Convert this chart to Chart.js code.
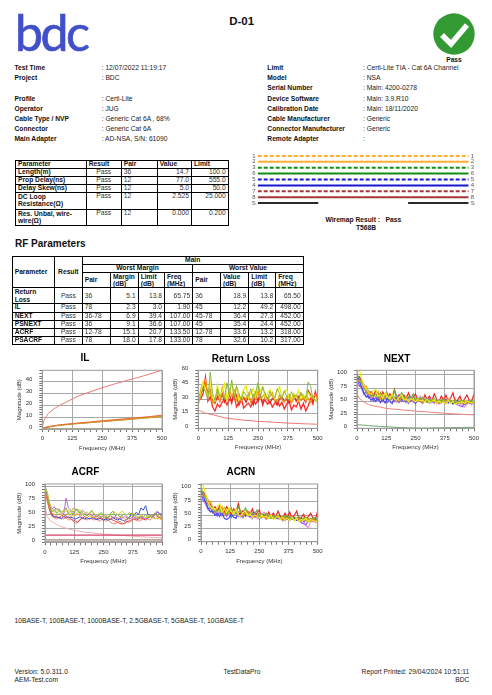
<!DOCTYPE html>
<html>
<head>
<meta charset="utf-8">
<title>D-01</title>
<script src="https://cdn.jsdelivr.net/npm/chart.js@4"></script>
<style>
    html, body { margin: 0; padding: 0; background: #fff; }
    body { position: relative; width: 492px; height: 695px; overflow: hidden; font-family: "Liberation Sans", Arial, sans-serif; font-size: 6.7px; color: #222; }
    .t { position: absolute; line-height: 8px; white-space: pre; }
    .b { font-weight: bold; color: #111; }
    canvas { position: absolute; }
    table { position: absolute; border-collapse: collapse; table-layout: fixed; font-size: 6.7px; }
    td { border: 1px solid #000; padding: 0 2px; line-height: 6.5px; overflow: hidden; vertical-align: top; color: #333; }
    td.h { font-weight: bold; color: #111; }
    td.r { text-align: right; }
    td.c { text-align: center; }
    td.m { vertical-align: middle; }
    td.two { line-height: 7.4px; }
</style>
</head>
<body>
<div id="logo" class="t" style="left:15px;top:7px;font:400 51px/50px Lato;color:#4150c8;letter-spacing:-2.6px;-webkit-text-stroke:0.7px #4150c8;transform-origin:0 0;transform:scaleX(0.98)">bdc</div>
<svg style="position:absolute;left:433px;top:13px" width="42" height="42">
    <circle cx="21" cy="21" r="20.7" fill="#339933"/>
    <path d="M9 22 L18 31 L34 12" fill="none" stroke="#fff" stroke-width="5.5"/>
</svg>
<div id="texts"></div>
<canvas id="wiremap" width="234" height="59" style="left:247px;top:149.5px"></canvas>
<canvas id="chartIL"></canvas>
<canvas id="chartRL"></canvas>
<canvas id="chartNEXT"></canvas>
<canvas id="chartACRF"></canvas>
<canvas id="chartACRN"></canvas>

<script>
// Header info
const leftLabels = ['Test Time', 'Project', 'Profile', 'Operator', 'Cable Type / NVP', 'Connector', 'Main Adapter'];
const leftValues = ['12/07/2022 11:19:17', 'BDC', 'Certi-Lite', 'JUG', 'Generic Cat 6A , 68%', 'Generic Cat 6A', 'AD-NSA, S/N: 61090'];
const rightLabels = ['Limit', 'Model', 'Serial Number', 'Device Software', 'Calibration Date', 'Cable Manufacturer', 'Connector Manufacturer', 'Remote Adapter'];
const rightValues = ['Certi-Lite TIA - Cat 6A Channel', 'NSA', 'Main: 4200-0278', 'Main: 3.9.R10', 'Main: 18/11/2020', 'Generic', 'Generic', ''];

// Summary table
const summaryHeader = ['Parameter', 'Result', 'Pair', 'Value', 'Limit'];
const summaryRows = [
    ['Length(m)', 'Pass', '36', '14.7', '100.0'],
    ['Prop Delay(ns)', 'Pass', '12', '77.0', '555.0'],
    ['Delay Skew(ns)', 'Pass', '12', '5.0', '50.0'],
    ['DC Loop Resistance(Ω)', 'Pass', '12', '2.525', '25.000'],
    ['Res. Unbal, wire-wire(Ω)', 'Pass', '12', '0.000', '0.200']
];

// RF table
const rfSubHeader = ['Pair', 'Margin (dB)', 'Limit (dB)', 'Freq (MHz)', 'Pair', 'Value (dB)', 'Limit (dB)', 'Freq (MHz)'];
const rfRows = [
    ['Return Loss', 'Pass', '36', '5.1', '13.8', '65.75', '36', '18.9', '13.8', '65.50'],
    ['IL', 'Pass', '78', '2.3', '3.0', '1.90', '45', '12.2', '49.2', '498.00'],
    ['NEXT', 'Pass', '36-78', '6.9', '39.4', '107.00', '45-78', '36.4', '27.3', '452.00'],
    ['PSNEXT', 'Pass', '36', '9.1', '36.6', '107.00', '45', '35.4', '24.4', '452.00'],
    ['ACRF', 'Pass', '12-78', '15.1', '20.7', '133.50', '12-78', '33.6', '13.2', '318.00'],
    ['PSACRF', 'Pass', '78', '18.0', '17.8', '133.00', '78', '32.6', '10.2', '317.00']
];

// Wiremap
const wireLabels = ['1', '2', '3', '6', '5', '4', '7', '8', 'S'];
const wireColors = ['#ffae2b', '#ffae2b', '#0f8f0f', '#0f8f0f', '#1717cf', '#1717cf', '#a83636', '#a83636', '#2a2a2a'];
const wireX = [0, 100];
const shieldX = [0, 28.7, 50, 71.3, 100];
const shieldY = [9, 9, null, 9, 9];

// Frequency axes
const ilFreq = [0.5, 5, 10, 25, 50, 75, 100, 125, 150, 200, 250, 300, 350, 400, 450, 500];
const freq = [1, 10, 20, 30, 40, 50, 60, 70, 80, 90, 100, 110, 120, 130, 140, 150, 160, 170, 180, 190, 200, 210, 220, 230, 240, 250, 260, 270, 280, 290, 300, 310, 320, 330, 340, 350, 360, 370, 380, 390, 400, 410, 420, 430, 440, 450, 460, 470, 480, 490, 500];
const limitFreq = [1, 10, 25, 50, 65, 100, 125, 175, 250, 300, 375, 450, 500];

// IL
const ilLimit = [2, 6, 8.5, 13, 17, 20, 22.5, 25, 27.5, 31, 34.5, 37.5, 40.3, 43, 46, 49];
const il1 = [0.3, 0.8, 1.1, 1.8, 2.7, 3.3, 3.8, 4.3, 4.7, 5.5, 6.4, 7.2, 8, 8.9, 9.8, 10.8];
const il2 = [0.2, 0.7, 1.0, 1.6, 2.5, 3.1, 3.6, 4.1, 4.5, 5.3, 6.1, 6.9, 7.7, 8.6, 9.4, 10.3];
const il3 = [0.3, 0.9, 1.2, 1.9, 2.8, 3.5, 4.0, 4.5, 5.0, 5.9, 6.9, 7.8, 8.6, 9.5, 10.4, 11.5];
const il4 = [0.2, 0.7, 1.0, 1.7, 2.6, 3.2, 3.7, 4.2, 4.6, 5.4, 6.3, 7.1, 7.9, 8.8, 9.6, 10.6];
const ilBase = [0.3, 0.3, 0.3, 0.3, 0.3, 0.3, 0.3, 0.3, 0.3, 0.3, 0.3, 0.3, 0.3, 0.3, 0.3, 0.3];

// Return Loss
const rlLimit = [18, 18, 16, 14.5, 13.8, 11.5, 10.2, 8.8, 7.2, 6.5, 5.4, 4.6, 4.2];
const rlGreen = [27, 33, 42, 38, 30, 58, 36, 29, 41, 33, 35, 30, 47, 34, 50, 31, 44, 36, 29, 38, 34, 33, 41, 30, 37, 47, 32, 43, 35, 30, 38, 33, 31, 41, 36, 30, 39, 33, 29, 38, 32, 35, 30, 37, 33, 31, 48, 44, 30, 29, 26];
const rlYellow = [24, 36, 48, 40, 32, 47, 31, 28, 45, 33, 38, 46, 30, 36, 47, 35, 42, 29, 33, 40, 44, 31, 36, 41, 33, 46, 38, 43, 31, 36, 40, 34, 30, 39, 43, 33, 37, 40, 31, 30, 36, 32, 39, 30, 35, 29, 37, 33, 32, 30, 28];
const rlOrange = [26, 40, 47, 50, 33, 38, 26, 30, 38, 28, 42, 32, 29, 40, 33, 38, 29, 35, 28, 33, 30, 36, 27, 35, 30, 38, 30, 33, 36, 29, 33, 37, 30, 28, 34, 30, 27, 33, 35, 26, 31, 34, 28, 36, 30, 33, 31, 27, 33, 35, 30];
const rlDarkRed = [33, 35, 42, 46, 35, 40, 30, 26, 33, 28, 36, 27, 31, 35, 26, 39, 34, 24, 29, 32, 27, 33, 29, 24, 36, 28, 34, 24, 34, 31, 26, 31, 29, 24, 30, 33, 28, 30, 26, 30, 35, 28, 33, 29, 31, 27, 39, 35, 28, 36, 31];
const rlRed = [30, 30, 36, 53, 28, 33, 22, 18, 25, 22, 27, 30, 24, 30, 28, 34, 22, 27, 31, 21, 24, 26, 22, 29, 25, 30, 33, 27, 29, 25, 28, 22, 26, 29, 23, 27, 20, 25, 29, 19, 24, 22, 28, 20, 26, 18, 23, 31, 25, 38, 29];

// NEXT
const nextLimit = [63, 56, 50, 44, 42, 39.5, 37, 35, 32, 30.5, 28, 26, 25];
const nextLow = [7, 6.5, 6, 5, 4.5, 3.5, 3, 1.5, 0.5, 0.5, 1, 1.5, 2];
const nextYellow = [105, 108, 92, 78, 74, 66, 64, 70, 72, 60, 62, 56, 66, 58, 55, 64, 54, 52, 58, 62, 52, 55, 50, 56, 53, 49, 54, 51, 52, 49, 55, 48, 50, 53, 47, 51, 48, 49, 46, 52, 47, 50, 45, 48, 47, 50, 46, 51, 49, 47, 50];
const nextGreen = [100, 92, 84, 76, 66, 70, 60, 62, 64, 56, 66, 54, 60, 64, 52, 56, 70, 58, 54, 66, 60, 52, 58, 55, 64, 50, 56, 53, 58, 52, 48, 54, 50, 56, 49, 53, 51, 55, 47, 50, 52, 48, 54, 46, 50, 52, 47, 49, 51, 53, 48];
const nextOrange = [90, 88, 88, 72, 78, 66, 58, 64, 58, 68, 54, 62, 55, 66, 52, 60, 56, 62, 50, 58, 54, 60, 49, 55, 52, 58, 50, 54, 47, 56, 51, 48, 55, 50, 52, 46, 54, 49, 51, 55, 47, 52, 50, 45, 54, 48, 52, 46, 50, 48, 45];
const nextBlue = [98, 88, 76, 66, 58, 60, 52, 56, 50, 58, 48, 54, 47, 56, 50, 46, 58, 52, 48, 60, 50, 55, 47, 58, 52, 46, 54, 50, 48, 52, 56, 47, 51, 49, 53, 46, 50, 48, 54, 47, 51, 45, 49, 52, 46, 50, 44, 48, 52, 46, 49];
const nextPurple = [94, 78, 78, 64, 68, 56, 60, 50, 58, 52, 62, 50, 58, 48, 54, 60, 50, 56, 62, 50, 54, 48, 58, 50, 54, 48, 56, 52, 46, 54, 50, 56, 48, 52, 46, 52, 48, 50, 46, 52, 48, 50, 47, 44, 42, 40, 48, 52, 46, 50, 47];
const nextPink = [86, 80, 72, 62, 60, 58, 62, 54, 58, 50, 56, 52, 62, 55, 50, 56, 52, 48, 56, 50, 54, 56, 50, 60, 48, 58, 52, 60, 54, 50, 48, 56, 52, 46, 54, 50, 46, 52, 48, 50, 54, 47, 52, 50, 48, 41, 39, 46, 50, 44, 50];
const nextRed = [92, 96, 88, 80, 74, 64, 68, 60, 70, 64, 58, 68, 60, 54, 64, 58, 72, 56, 62, 52, 62, 56, 66, 53, 58, 64, 52, 57, 50, 62, 54, 60, 51, 64, 55, 49, 60, 52, 62, 50, 56, 66, 49, 53, 60, 47, 55, 62, 52, 50, 64];

// ACRF
const acrfLimit = [62, 46, 38, 32, 29, 24, 21.5, 18, 15, 13, 11, 9, 8];
const acrfFlat = [13, 13, 13, 13, 13, 13, 13, 13, 13, 13, 13, 13, 13];
const acrfBandHigh = [4.5, 4.5, 4.5, 4.5, 4.5, 4.5, 4.5, 4.5, 4.5, 4.5, 4.5, 4.5, 4.5];
const acrfBandLow = [2, 2, 2, 2, 2, 2, 2, 2, 2, 2, 2, 2, 2];
const acrfYellow = [98, 90, 72, 58, 54, 62, 56, 52, 60, 55, 58, 50, 62, 54, 52, 58, 50, 52, 55, 50, 56, 52, 48, 52, 50, 46, 48, 50, 47, 52, 55, 50, 53, 56, 52, 48, 54, 50, 52, 48, 46, 50, 47, 44, 46, 48, 44, 42, 44, 42, 40];
const acrfGreen = [100, 85, 66, 55, 60, 52, 58, 54, 56, 62, 52, 56, 50, 58, 60, 52, 54, 50, 48, 52, 58, 50, 46, 50, 54, 48, 46, 44, 52, 56, 48, 50, 46, 48, 52, 46, 44, 48, 50, 46, 44, 48, 46, 50, 44, 46, 48, 52, 48, 50, 46];
const acrfPurple = [96, 84, 68, 60, 64, 58, 60, 54, 50, 80, 62, 58, 54, 60, 56, 52, 58, 54, 50, 52, 48, 50, 46, 48, 46, 48, 44, 46, 48, 44, 46, 44, 42, 44, 46, 44, 42, 44, 46, 42, 44, 46, 44, 42, 46, 48, 44, 52, 56, 50, 48];
const acrfOrange = [92, 80, 62, 52, 50, 48, 52, 50, 47, 50, 52, 46, 50, 48, 52, 47, 50, 46, 44, 48, 46, 44, 48, 46, 44, 42, 46, 44, 42, 46, 44, 42, 44, 46, 42, 40, 44, 42, 46, 44, 42, 46, 44, 42, 48, 46, 44, 50, 48, 46, 44];
const acrfBlue = [100, 88, 64, 50, 46, 46, 44, 42, 46, 48, 44, 45, 44, 42, 44, 46, 44, 42, 44, 42, 44, 43, 41, 42, 44, 40, 42, 40, 42, 44, 42, 40, 42, 40, 38, 42, 45, 52, 48, 54, 50, 62, 58, 66, 50, 48, 46, 50, 54, 52, 50];
const acrfRed = [90, 78, 58, 48, 46, 45, 44, 48, 46, 44, 46, 42, 40, 38, 36, 40, 44, 46, 44, 42, 44, 46, 42, 44, 42, 40, 42, 44, 42, 40, 38, 36, 34, 33, 35, 38, 36, 40, 42, 40, 42, 44, 42, 40, 44, 46, 48, 52, 46, 44, 42];
const acrfSalmon = [88, 72, 56, 46, 44, 42, 46, 44, 42, 44, 40, 42, 38, 34, 36, 42, 44, 42, 40, 44, 42, 40, 42, 38, 40, 42, 38, 40, 36, 34, 33, 36, 38, 34, 33, 36, 40, 38, 42, 40, 38, 40, 42, 44, 42, 40, 46, 44, 42, 46, 44];

// ACRN
const acrnYellow = [104, 106, 90, 76, 66, 64, 60, 66, 72, 56, 62, 55, 64, 56, 52, 62, 50, 48, 55, 58, 48, 52, 46, 50, 48, 44, 50, 46, 48, 44, 50, 42, 45, 48, 42, 46, 42, 44, 40, 45, 40, 44, 38, 42, 40, 44, 38, 42, 40, 38, 40];
const acrnGreen = [100, 90, 82, 72, 64, 66, 56, 60, 62, 54, 64, 52, 58, 62, 50, 54, 66, 56, 52, 64, 56, 50, 54, 52, 60, 46, 52, 49, 54, 48, 44, 50, 46, 50, 44, 48, 46, 50, 42, 45, 46, 43, 48, 40, 44, 46, 40, 43, 44, 46, 40];
const acrnOrange = [90, 86, 86, 70, 76, 64, 56, 62, 56, 66, 52, 60, 53, 64, 50, 58, 54, 60, 48, 56, 50, 56, 45, 51, 48, 54, 46, 50, 43, 50, 46, 44, 50, 45, 46, 40, 48, 44, 46, 48, 40, 45, 43, 38, 46, 40, 44, 38, 42, 40, 36];
const acrnBlue = [98, 86, 74, 64, 56, 58, 50, 54, 48, 56, 44, 42, 45, 52, 46, 44, 56, 50, 46, 58, 48, 52, 44, 54, 48, 43, 50, 46, 44, 48, 50, 43, 46, 44, 47, 40, 45, 42, 47, 42, 44, 40, 42, 45, 38, 42, 38, 40, 44, 38, 40];
const acrnPurple = [94, 76, 76, 62, 64, 54, 58, 48, 56, 50, 60, 48, 56, 46, 52, 58, 48, 54, 58, 48, 50, 46, 54, 46, 50, 44, 52, 48, 42, 50, 46, 50, 44, 46, 42, 46, 42, 44, 40, 45, 42, 44, 40, 36, 34, 32, 40, 44, 38, 42, 38];
const acrnPink = [84, 78, 70, 60, 58, 56, 60, 52, 56, 48, 54, 50, 60, 53, 48, 54, 50, 46, 52, 48, 50, 52, 46, 56, 44, 54, 48, 56, 50, 46, 44, 50, 46, 42, 48, 44, 40, 46, 42, 44, 48, 40, 45, 42, 40, 30, 26, 38, 42, 36, 42];
const acrnRed = [92, 94, 86, 78, 70, 62, 66, 58, 68, 62, 56, 66, 60, 52, 62, 56, 72, 54, 58, 50, 58, 52, 62, 48, 54, 60, 46, 52, 46, 56, 48, 54, 46, 58, 48, 44, 54, 46, 56, 44, 50, 58, 42, 46, 52, 40, 48, 54, 44, 42, 58];

// Put a line of text on the page, cy is the vertical middle of the line
function addText(str, x, cy, cls, align, size) {
    const el = document.createElement('div');
    el.className = 't ' + (cls || '');
    el.textContent = str;
    el.style.top = (cy - 4) + 'px';
    if (size) el.style.fontSize = size + 'px';
    if (align === 'right') el.style.right = (492 - x) + 'px';
    else if (align === 'center') { el.style.left = x + 'px'; el.style.transform = 'translateX(-50%)'; }
    else el.style.left = x + 'px';
    document.getElementById('texts').appendChild(el);
}

addText('D-01', 241.7, 21, 'b', 'center', 11.5);
addText('Pass', 454, 59.7, 'b', 'center');

const leftY = [67.5, 77.7, 98.7, 108.7, 118.7, 128.7, 138.7];
leftLabels.forEach((l, i) => {
    addText(l, 14.5, leftY[i], 'b');
    addText(': ' + leftValues[i], 101.7, leftY[i]);
});
const rightY = [67.5, 77.7, 87.7, 98.7, 108.7, 118.7, 128.7, 138.7];
rightLabels.forEach((l, i) => {
    addText(l, 267.3, rightY[i], 'b');
    addText(': ' + rightValues[i], 363, rightY[i]);
});

addText('Wiremap Result :   Pass', 363.3, 219.7, 'b', 'center');
addText('T568B', 366, 227.7, 'b', 'center');

addText('RF Parameters', 15, 244, 'b', '', 10);

addText('10BASE-T, 100BASE-T, 1000BASE-T, 2.5GBASE-T, 5GBASE-T, 10GBASE-T', 14.5, 620.7);
addText('Version: 5.0.311.0', 14.5, 671.7);
addText('AEM-Test.com', 14.5, 679.7);
addText('TestDataPro', 242, 671.7, '', 'center');
addText('Report Printed: 29/04/2024 10:51:11', 469.3, 671.7, '', 'right');
addText('BDC', 469.3, 679.7, '', 'right');

// Tables
function cell(text, cls, extra) {
    return '<td class="' + (cls || '') + '" ' + (extra || '') + '>' + text + '</td>';
}
function colgroup(widths) {
    return '<colgroup>' + widths.map(w => '<col style="width:' + w + 'px">').join('') + '</colgroup>';
}
function addTable(x, y, widths, html) {
    const t = document.createElement('table');
    t.style.left = x + 'px';
    t.style.top = y + 'px';
    t.style.width = widths.reduce((a, b) => a + b, 0) + 'px';
    t.innerHTML = colgroup(widths) + html;
    document.body.appendChild(t);
}

const summaryHeights = [8, 8, 8, 8, 17, 15];
let html1 = '<tr style="height:' + summaryHeights[0] + 'px">' + summaryHeader.map(h => cell(h, 'h')).join('') + '</tr>';
summaryRows.forEach((r, i) => {
    const two = r[0].length > 15 ? ' two' : '';
    html1 += '<tr style="height:' + summaryHeights[i + 1] + 'px">' + cell(r[0], 'h' + two) + cell(r[1], 'c') + cell(r[2]) + cell(r[3], 'r') + cell(r[4], 'r') + '</tr>';
});
addTable(15, 160, [70.7, 35, 36, 34.3, 36.7], html1);

const rfHeights = [15.6, 16, 8.4, 8, 8.3, 8, 8];
let html2 = '<tr style="height:8.3px">' + cell('Parameter', 'h m', 'rowspan="3"') + cell('Result', 'h m c', 'rowspan="3"') + cell('Main', 'h c', 'colspan="8"') + '</tr>';
html2 += '<tr style="height:7.7px">' + cell('Worst Margin', 'h c', 'colspan="4"') + cell('Worst Value', 'h c', 'colspan="4"') + '</tr>';
html2 += '<tr style="height:' + rfHeights[0] + 'px">' + rfSubHeader.map((h, i) => cell(h, i % 4 === 0 ? 'h m' : 'h two')).join('') + '</tr>';
rfRows.forEach((r, i) => {
    html2 += '<tr style="height:' + rfHeights[i + 1] + 'px">' + r.map((v, j) => {
        if (j === 0) return cell(v, i === 0 ? 'h two' : 'h');
        if (j === 1) return cell(v, 'c' + (i === 0 ? ' m' : ''));
        if (j === 2 || j === 6) return cell(v, i === 0 ? 'm' : '');
        return cell(v, 'r' + (i === 0 ? ' m' : ''));
    }).join('') + '</tr>';
});
addTable(11.7, 255.7, [42.3, 27.7, 28.3, 27.7, 26.3, 28.3, 27.7, 28.3, 27, 27.4], html2);

// Chart.js
Chart.defaults.font.family = '"Liberation Sans", Arial, sans-serif';
Chart.defaults.font.size = 6;
Chart.defaults.color = '#333';
Chart.defaults.animation = false;
Chart.defaults.responsive = false;

// grey box round the plot
const plotFrame = {
    id: 'plotFrame',
    afterDatasetsDraw(chart) {
        const a = chart.chartArea;
        chart.ctx.save();
        chart.ctx.strokeStyle = '#9a9a9a';
        chart.ctx.lineWidth = 1;
        chart.ctx.strokeRect(a.left, a.top, a.right - a.left, a.bottom - a.top);
        chart.ctx.restore();
    }
};

function series(xs, ys, color, width) {
    return {
        data: xs.map((x, i) => ({ x: x, y: ys[i] })),
        borderColor: color,
        borderWidth: width || 1.2,
        pointRadius: 0,
        tension: 0
    };
}

function makeChart(id, title, box, yMax, yStep, yMajor, datasets) {
    const canvasRight = Math.round(box.right + 8);
    const canvasLeft = Math.round(2 * box.titleX - canvasRight);
    const canvasTop = Math.round(box.titleY - 6);
    const canvasBottom = Math.round(box.bottom + 26);
    const canvas = document.getElementById(id);
    canvas.width = canvasRight - canvasLeft;
    canvas.height = canvasBottom - canvasTop;
    canvas.style.left = canvasLeft + 'px';
    canvas.style.top = canvasTop + 'px';

    return new Chart(canvas, {
        type: 'line',
        data: { datasets: datasets },
        plugins: [plotFrame],
        options: {
            layout: { padding: { left: 0, top: 0, bottom: 0, right: canvasRight - box.right } },
            plugins: {
                legend: { display: false },
                tooltip: { enabled: false },
                title: {
                    display: true,
                    text: title,
                    color: '#000',
                    font: { size: 10, weight: 'bold' },
                    padding: { top: 0, bottom: box.top - canvasTop - 12 }
                }
            },
            scales: {
                x: {
                    type: 'linear',
                    min: 0,
                    max: 500,
                    afterFit(axis) { axis.height = canvasBottom - box.bottom; axis.paddingLeft = 0; axis.paddingRight = 0; },
                    border: { display: false },
                    grid: {
                        color: c => c.tick.value % 125 === 0 ? '#a8a8a8' : 'transparent',
                        tickColor: '#777',
                        tickLength: 3
                    },
                    ticks: {
                        stepSize: 25,
                        autoSkip: false,
                        maxRotation: 0,
                        padding: 3,
                        callback: v => v % 125 === 0 ? v : ''
                    },
                    title: { display: true, text: 'Frequency (MHz)', font: { size: 6 }, padding: { top: 3, bottom: 3 } }
                },
                y: {
                    min: 0,
                    max: yMax,
                    afterFit(axis) { axis.width = box.left - canvasLeft; axis.paddingTop = 0; axis.paddingBottom = 0; },
                    border: { display: false },
                    grid: {
                        color: c => c.tick.value % yMajor === 0 ? '#a8a8a8' : 'transparent',
                        tickColor: '#777',
                        tickLength: 3
                    },
                    ticks: {
                        stepSize: yStep,
                        autoSkip: false,
                        padding: 7,
                        labelOffset: -2,
                        callback: v => v % yMajor === 0 ? v : ''
                    },
                    title: { display: true, text: 'Magnitude (dB)', font: { size: 6 }, padding: { top: box.magX - canvasLeft - 3.6, bottom: 0 } }
                }
            }
        }
    });
}

makeChart('chartIL', 'IL', { left: 42.3, right: 162, top: 370.3, bottom: 429, titleX: 89, titleY: 358, magX: 19.3 }, 49, 2, 10, [
    series(ilFreq, ilBase, '#b0a860', 1),
    series(ilFreq, ilLimit, '#ee7a7a', 1),
    series(ilFreq, il3, '#e86a3a', 1),
    series(ilFreq, il1, '#d8a030', 1),
    series(ilFreq, il2, '#b0a030', 1),
    series(ilFreq, il4, '#f09020', 1)
]);

makeChart('chartRL', 'Return Loss', { left: 198.3, right: 317.7, top: 370.3, bottom: 428.3, titleX: 245, titleY: 358.5, magX: 175 }, 60, 3, 15, [
    series(limitFreq, rlLimit, '#ee7a7a', 1),
    series(freq, rlGreen, '#7fb23a', 0.9),
    series(freq, rlYellow, '#ecec10', 1.3),
    series(freq, rlOrange, '#f59a1a', 1.3),
    series(freq, rlDarkRed, '#e02a1a', 1.3),
    series(freq, rlRed, '#ff2a2a', 1.3)
]);

makeChart('chartNEXT', 'NEXT', { left: 357, right: 474, top: 370.3, bottom: 428.3, titleX: 401, titleY: 358.5, magX: 331 }, 108, 5, 25, [
    series(limitFreq, nextLow, '#70a870', 1),
    series(limitFreq, nextLimit, '#ee8080', 1),
    series(freq, nextYellow, '#f0ec10'),
    series(freq, nextGreen, '#70b040'),
    series(freq, nextOrange, '#f09a20'),
    series(freq, nextBlue, '#3a4cf0'),
    series(freq, nextPurple, '#9a5ae0'),
    series(freq, nextPink, '#e896c8'),
    series(freq, nextRed, '#f02020')
]);

makeChart('chartACRF', 'ACRF', { left: 45, right: 162, top: 484, bottom: 542.3, titleX: 89.7, titleY: 471.5, magX: 19.3 }, 105, 5, 25, [
    series(limitFreq, acrfBandLow, '#b8a8a0', 1.5),
    series(limitFreq, acrfBandHigh, '#b8a8a0', 1.5),
    series(limitFreq, acrfFlat, '#d8406a', 1.2),
    series(limitFreq, acrfLimit, '#f4b0b0', 1),
    series(freq, acrfYellow, '#d4d040', 1),
    series(freq, acrfGreen, '#74b040', 1),
    series(freq, acrfPurple, '#b868d8', 1),
    series(freq, acrfOrange, '#f09a30', 1),
    series(freq, acrfBlue, '#3a50d0', 1),
    series(freq, acrfRed, '#e04848', 1),
    series(freq, acrfSalmon, '#f08878', 1)
]);

makeChart('chartACRN', 'ACRN', { left: 201, right: 317.7, top: 484, bottom: 541.7, titleX: 245, titleY: 471.5, magX: 175 }, 109, 5, 25, [
    series(freq, acrnYellow, '#f0ec10'),
    series(freq, acrnGreen, '#70b040'),
    series(freq, acrnOrange, '#f09a20'),
    series(freq, acrnRed, '#f02020'),
    series(freq, acrnBlue, '#3a4cf0'),
    series(freq, acrnPurple, '#9a5ae0'),
    series(freq, acrnPink, '#e896c8')
]);

// Wiremap drawn as one flat line per wire
const wireSets = wireLabels.map((label, i) => {
    const set = label === 'S'
        ? { data: shieldX.map((x, k) => ({ x: x, y: shieldY[k] })), spanGaps: false }
        : { data: wireX.map(x => ({ x: x, y: i + 1 })) };
    set.borderColor = wireColors[i];
    set.borderWidth = 2;
    set.pointRadius = 0;
    if (i < 8 && i % 2 === 0) set.borderDash = [4, 2];
    return set;
});
const wireTicks = {
    stepSize: 1,
    autoSkip: false,
    padding: 2,
    color: '#555',
    callback: v => wireLabels[v - 1] || ''
};
new Chart(document.getElementById('wiremap'), {
    type: 'line',
    data: { datasets: wireSets },
    options: {
        layout: { padding: 0 },
        plugins: { legend: { display: false }, tooltip: { enabled: false } },
        scales: {
            x: { type: 'linear', min: 0, max: 100, display: false },
            y: {
                reverse: true, min: 0, max: 10, position: 'left',
                afterFit(axis) { axis.width = 10.7; axis.paddingTop = 0; axis.paddingBottom = 0; },
                grid: { display: false, drawTicks: false }, border: { display: false }, ticks: wireTicks
            },
            yRight: {
                axis: 'y', type: 'linear', reverse: true, min: 0, max: 10, position: 'right',
                afterFit(axis) { axis.width = 12.3; axis.paddingTop = 0; axis.paddingBottom = 0; },
                grid: { display: false, drawTicks: false }, border: { display: false }, ticks: wireTicks
            }
        }
    }
});
</script>
</body>
</html>
